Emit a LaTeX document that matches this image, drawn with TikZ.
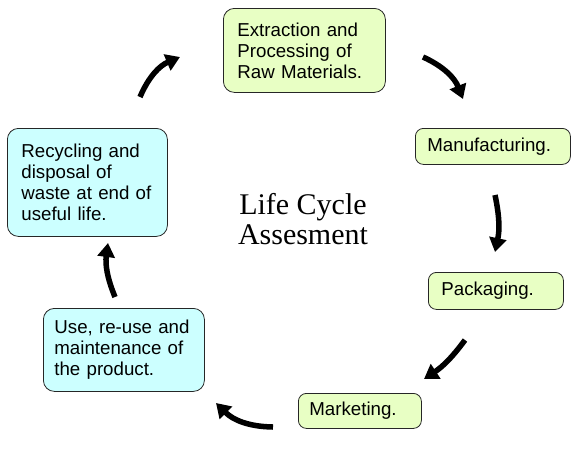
\documentclass[tikz,border=0pt]{standalone}
\usepackage{fontspec}
\setmainfont{Liberation Sans}
\newfontfamily\serifface{Liberation Serif}
\usetikzlibrary{arrows.meta}
\definecolor{lgreen}{RGB}{232,255,196}
\definecolor{lcyan}{RGB}{204,255,255}
\tikzset{
  stage/.style={draw=black!85, line width=0.8pt, rounded corners=11pt, align=left,
    anchor=north west, inner ysep=0pt, font=\fontsize{18.7}{21}\selectfont},
  greenbox/.style={stage, fill=lgreen},
  cyanbox/.style={stage, fill=lcyan},
  cyclearrow/.style={line width=5.5pt, -{Triangle[length=14pt,width=17pt]}, bend left=22}
}
\begin{document}
\begin{tikzpicture}[x=1pt,y=-1pt]
\useasboundingbox (0,0) rectangle (580,448);
\node[greenbox, text width=134pt, inner xsep=14pt, minimum height=84pt] (extr) at (223,8)
  {Extraction and\\Processing of\\Raw Materials.};
\node[greenbox, text width=131pt, inner xsep=12pt, minimum height=36pt, rounded corners=8pt] (manu) at (415,128)
  {Manufacturing.};
\node[greenbox, text width=109pt, inner xsep=13pt, minimum height=37pt, rounded corners=8pt] (pack) at (428,272)
  {Packaging.};
\node[greenbox, text width=101pt, inner xsep=11pt, minimum height=35pt, rounded corners=8pt] (mark) at (298,393)
  {Marketing.};
\node[cyanbox, text width=139pt, inner xsep=11pt, minimum height=83pt] (use) at (43,308)
  {Use, re-use and\\maintenance of\\the product.};
\node[cyanbox, text width=132pt, inner xsep=14pt, minimum height=108pt] (recy) at (7,128)
  {Recycling and\\disposal of\\waste at end of\\useful life.};
\node[font=\serifface\fontsize{30}{30}\selectfont, align=center] (title) at (303,219)
  {Life Cycle\\Assesment};
\coordinate (a1s) at (140,97);  \coordinate (a1e) at (180,57);
\coordinate (a2s) at (423,57);  \coordinate (a2e) at (463,99);
\coordinate (a3s) at (495,195); \coordinate (a3e) at (495,252);
\coordinate (a4s) at (465,340); \coordinate (a4e) at (424,379);
\coordinate (a5s) at (273,427); \coordinate (a5e) at (216,403);
\coordinate (a6s) at (115,297); \coordinate (a6e) at (108,243);
\draw[cyclearrow] (a1s) to (a1e);
\draw[cyclearrow] (a2s) to (a2e);
\draw[cyclearrow, bend left=12] (a3s) to (a3e);
\draw[cyclearrow, bend left=10] (a4s) to (a4e);
\draw[cyclearrow] (a5s) to (a5e);
\draw[cyclearrow, bend left=15] (a6s) to (a6e);
\end{tikzpicture}
\end{document}
